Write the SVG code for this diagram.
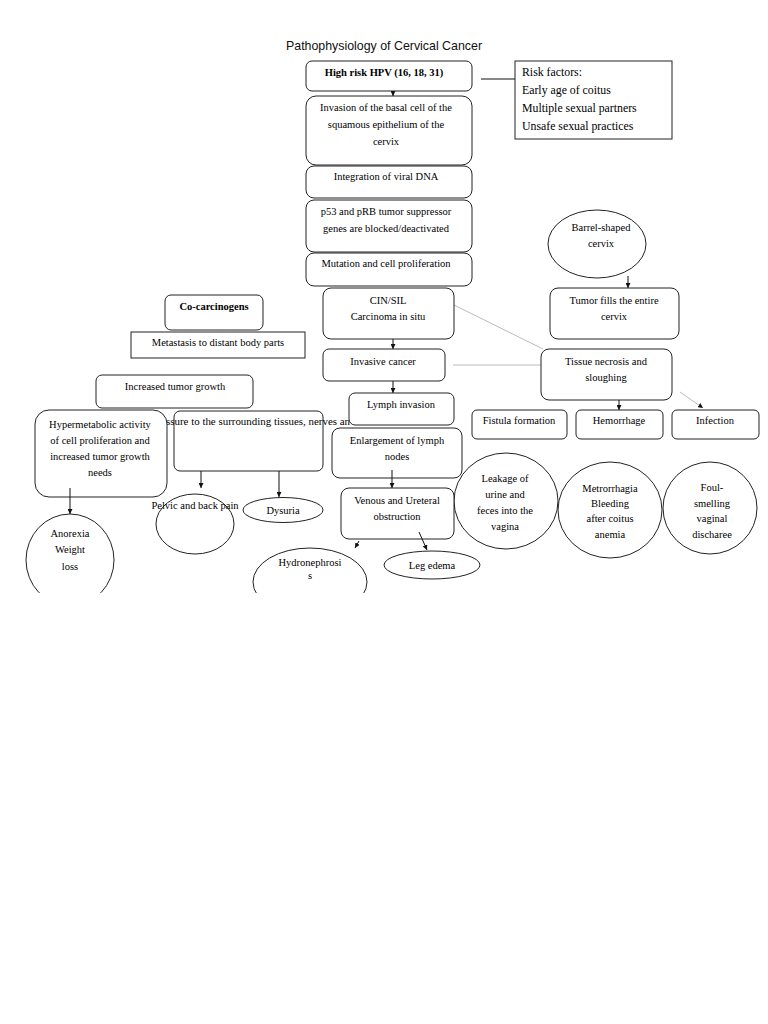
<svg xmlns="http://www.w3.org/2000/svg" width="768" height="1024" viewBox="0 0 768 1024">
<defs>
<marker id="ah" viewBox="0 0 10 10" refX="10" refY="5" markerWidth="5" markerHeight="5" orient="auto" markerUnits="userSpaceOnUse"><path d="M0,0 L10,5 L0,10 z" fill="#111"/></marker>
<clipPath id="page"><rect x="0" y="0" width="768" height="593"/></clipPath>
<style>
.b{fill:#fff;stroke:#222;stroke-width:1}
.t{font-family:"Liberation Serif","DejaVu Serif",serif;font-size:10.5px;fill:#000;text-anchor:middle}
.tl{font-family:"Liberation Serif","DejaVu Serif",serif;font-size:11.8px;fill:#000}
.ts{font-family:"Liberation Serif","DejaVu Serif",serif;font-size:10.5px;fill:#000}
.bold{font-weight:bold}
.c{stroke:#111;stroke-width:1;fill:none}
.g{stroke:#bbb;stroke-width:1;fill:none}
</style>
</defs>
<rect width="768" height="1024" fill="#fff"/>
<text x="384" y="50" font-family="Liberation Sans, Arial, sans-serif" font-size="13" fill="#111" text-anchor="middle" textLength="196" lengthAdjust="spacingAndGlyphs">Pathophysiology of Cervical Cancer</text>

<g id="connectors">
<line class="c" x1="481" y1="79" x2="515" y2="79"/>
<line class="c" x1="393" y1="91" x2="393" y2="96" marker-end="url(#ah)"/>
<line class="g" x1="454" y1="305" x2="543" y2="349"/>
<line class="g" x1="453" y1="365" x2="541" y2="365"/>
<line class="c" x1="393" y1="339" x2="393" y2="349" marker-end="url(#ah)"/>
<line class="c" x1="393" y1="381" x2="393" y2="393" marker-end="url(#ah)"/>
<line class="c" x1="628" y1="276" x2="628" y2="288" marker-end="url(#ah)"/>
<line class="c" x1="619" y1="400" x2="619" y2="410" marker-end="url(#ah)"/>
<line class="g" x1="680" y1="392" x2="703" y2="408" marker-end="url(#ah)"/>
</g>

<g id="n-hpv"><rect class="b" x="306" y="61" width="166" height="30" rx="6"/><text class="t bold" x="384" y="76">High risk HPV (16, 18, 31)</text></g>
<g id="n-risk"><rect class="b" x="515" y="61" width="157" height="78"/><text class="tl" x="522" y="76">Risk factors:</text><text class="tl" x="522" y="94">Early age of coitus</text><text class="tl" x="522" y="112">Multiple sexual partners</text><text class="tl" x="522" y="130">Unsafe sexual practices</text></g>
<g id="n-invasion"><rect class="b" x="306" y="96" width="166" height="69" rx="10"/><text class="t" x="386" y="111">Invasion of the basal cell of the</text><text class="t" x="386" y="128">squamous epithelium of the</text><text class="t" x="386" y="145">cervix</text></g>
<g id="n-integration"><rect class="b" x="306" y="166" width="166" height="32" rx="8"/><text class="t" x="386" y="180">Integration of viral DNA</text></g>
<g id="n-p53"><rect class="b" x="306" y="200" width="166" height="52" rx="8"/><text class="t" x="386" y="215">p53 and pRB tumor suppressor</text><text class="t" x="386" y="232">genes are blocked/deactivated</text></g>
<g id="n-mutation"><rect class="b" x="306" y="253" width="166" height="33" rx="8"/><text class="t" x="386" y="267">Mutation and cell proliferation</text></g>
<g id="n-cin"><rect class="b" x="323" y="288" width="131" height="51" rx="8"/><text class="t" x="388" y="304">CIN/SIL</text><text class="t" x="388" y="320">Carcinoma in situ</text></g>
<g id="n-invasive"><rect class="b" x="323" y="349" width="122" height="32" rx="6"/><text class="t" x="383" y="365">Invasive cancer</text></g>

<g id="n-barrel"><ellipse class="b" cx="597" cy="244" rx="49" ry="34"/><text class="t" x="601" y="231">Barrel-shaped</text><text class="t" x="601" y="247">cervix</text></g>
<g id="n-tumorfills"><rect class="b" x="550" y="288" width="129" height="51" rx="8"/><text class="t" x="614" y="304">Tumor fills the entire</text><text class="t" x="614" y="320">cervix</text></g>
<g id="n-necrosis"><rect class="b" x="541" y="349" width="131" height="51" rx="8"/><text class="t" x="606" y="365">Tissue necrosis and</text><text class="t" x="606" y="381">sloughing</text></g>
<g id="n-fistula"><rect class="b" x="472" y="410" width="95" height="29" rx="5"/><text class="t" x="519" y="424">Fistula formation</text></g>
<g id="n-hemorrhage"><rect class="b" x="576" y="410" width="87" height="29" rx="5"/><text class="t" x="619" y="424">Hemorrhage</text></g>
<g id="n-infection"><rect class="b" x="672" y="410" width="87" height="29" rx="5"/><text class="t" x="715" y="424">Infection</text></g>
<g id="n-leakage"><ellipse class="b" cx="506" cy="501" rx="52" ry="48"/><text class="t" x="505" y="482">Leakage of</text><text class="t" x="505" y="498">urine and</text><text class="t" x="505" y="514">feces into the</text><text class="t" x="505" y="530">vagina</text></g>
<g id="n-metrorrhagia"><ellipse class="b" cx="610" cy="510" rx="52" ry="48"/><text class="t" x="610" y="492">Metrorrhagia</text><text class="t" x="610" y="507">Bleeding</text><text class="t" x="610" y="522">after coitus</text><text class="t" x="610" y="538">anemia</text></g>
<g id="n-foul"><ellipse class="b" cx="710" cy="508" rx="47" ry="46"/><text class="t" x="712" y="491">Foul-</text><text class="t" x="712" y="507">smelling</text><text class="t" x="712" y="522">vaginal</text><text class="t" x="712" y="538">discharee</text></g>

<g id="n-cocarcinogens"><rect class="b" x="165" y="295" width="98" height="35" rx="6"/><text class="t bold" x="214" y="310">Co-carcinogens</text></g>
<g id="n-metastasis"><rect class="b" x="131" y="332" width="174" height="26"/><text class="t" x="218" y="346">Metastasis to distant body parts</text></g>
<g id="n-increased"><rect class="b" x="96" y="375" width="157" height="33" rx="6"/><text class="t" x="175" y="390">Increased tumor growth</text></g>
<g id="n-pressure"><rect class="b" x="174" y="411" width="149" height="60" rx="6"/><text class="ts" x="166" y="425" textLength="184" lengthAdjust="spacingAndGlyphs">ssure to the surrounding tissues, nerves an</text></g>
<g id="n-hypermetabolic"><rect class="b" x="35" y="410" width="132" height="87" rx="14"/><text class="t" x="100" y="428">Hypermetabolic activity</text><text class="t" x="100" y="444">of cell proliferation and</text><text class="t" x="100" y="460">increased tumor growth</text><text class="t" x="100" y="476">needs</text></g>
<g id="n-lymph"><rect class="b" x="349" y="393" width="105" height="32" rx="6"/><text class="t" x="401" y="408">Lymph invasion</text></g>
<g id="n-enlargement"><rect class="b" x="332" y="428" width="130" height="50" rx="8"/><text class="t" x="397" y="444">Enlargement of lymph</text><text class="t" x="397" y="460">nodes</text></g>
<g id="n-venous"><rect class="b" x="341" y="488" width="113" height="51" rx="8"/><text class="t" x="397" y="504">Venous and Ureteral</text><text class="t" x="397" y="520">obstruction</text></g>
<g id="n-pelvic"><ellipse class="b" cx="195" cy="524" rx="39" ry="30"/><text class="t" x="195" y="509">Pelvic and back pain</text></g>
<g id="n-dysuria"><ellipse class="b" cx="283" cy="510" rx="40" ry="12.5"/><text class="t" x="283" y="514">Dysuria</text></g>
<g id="n-anorexia" clip-path="url(#page)"><ellipse class="b" cx="70" cy="560" rx="44" ry="46"/><text class="t" x="70" y="537">Anorexia</text><text class="t" x="70" y="553">Weight</text><text class="t" x="70" y="570">loss</text></g>
<g id="n-hydronephrosis" clip-path="url(#page)"><ellipse class="b" cx="310" cy="582" rx="57" ry="34"/><text class="t" x="310" y="566">Hydronephrosi</text><text class="t" x="310" y="579">s</text></g>
<g id="n-legedema"><ellipse class="b" cx="432" cy="565" rx="48" ry="14"/><text class="t" x="432" y="569">Leg edema</text></g>

<g id="connectors-2">
<line class="c" x1="392" y1="470" x2="392" y2="488" marker-end="url(#ah)"/>
<line class="c" x1="419" y1="532" x2="427" y2="550" marker-end="url(#ah)"/>
<line class="c" x1="359" y1="541" x2="355" y2="548" marker-end="url(#ah)"/>
<line class="c" x1="201" y1="471" x2="201" y2="488" marker-end="url(#ah)"/>
<line class="c" x1="279" y1="471" x2="279" y2="497" marker-end="url(#ah)"/>
<line class="c" x1="70" y1="488" x2="70" y2="514" marker-end="url(#ah)"/>
</g>
</svg>
